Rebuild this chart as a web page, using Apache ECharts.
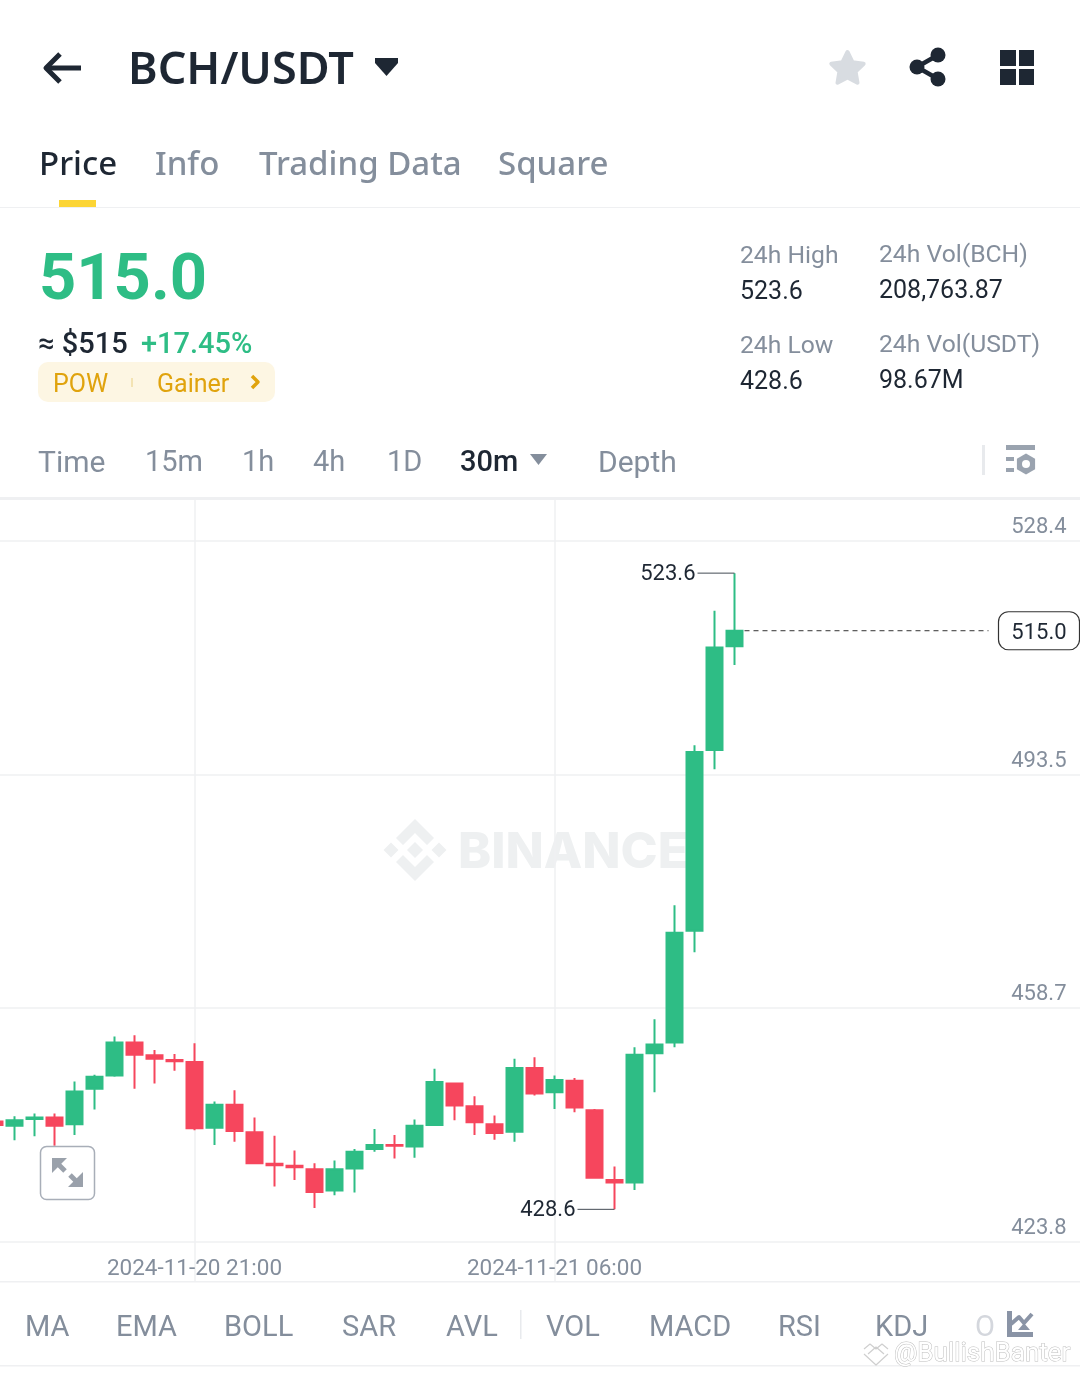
<!DOCTYPE html>
<html>
<head>
<meta charset="utf-8">
<title>BCH/USDT</title>
<script src="https://cdn.jsdelivr.net/npm/echarts@6/dist/echarts.min.js"></script>
<style>
html, body { margin: 0; padding: 0; background: #fff; }
#main { width: 1080px; height: 1375px; }
</style>
</head>
<body>
<div id="main"></div>
<script>
// 30m candles, first one is 2024-11-20 16:00
var opens = [441.7, 441.1, 442.1, 442.3, 441.3, 446.6, 448.6, 453.5, 451.6, 450.9, 450.6, 440.8, 444.2, 440.1, 435.4, 435.1, 434.6, 431.4, 434.7, 437.6, 438.2, 438.0, 441.2, 447.4, 444.0, 441.3, 440.2, 449.7, 446.1, 447.8, 443.4, 433.0, 432.6, 451.9, 453.5, 470.2, 497.2, 512.7];
var closes = [441.2, 441.9, 442.3, 441.1, 446.2, 448.4, 453.5, 451.7, 451.1, 450.7, 440.7, 444.2, 440.3, 435.5, 435.2, 434.9, 431.2, 434.6, 437.2, 438.2, 438.1, 441.1, 447.6, 444.1, 441.6, 440.0, 449.7, 445.9, 447.9, 443.8, 433.3, 432.6, 451.7, 453.2, 469.9, 496.9, 512.5, 515.0];
var lows = [441.1, 438.9, 439.5, 438.1, 439.7, 443.5, 448.4, 446.6, 447.4, 449.3, 440.4, 438.2, 438.7, 435.4, 432.0, 433.0, 428.8, 430.7, 431.1, 437.2, 436.2, 436.3, 441.1, 441.9, 439.7, 439.0, 438.7, 445.6, 443.6, 443.1, 433.2, 428.6, 431.5, 446.1, 452.8, 467.0, 494.3, 509.9];
var highs = [441.8, 442.5, 442.9, 442.9, 447.7, 448.7, 454.4, 454.6, 452.4, 451.8, 453.4, 444.7, 446.4, 442.3, 439.6, 437.4, 435.5, 435.9, 437.6, 440.6, 439.7, 442.0, 449.6, 447.5, 445.5, 442.6, 451.1, 451.3, 448.6, 448.2, 443.6, 435.0, 452.8, 457.0, 474.0, 497.9, 518.0, 523.6];
var priceTicks = [423.8, 458.7, 493.5, 528.4];
var dateLabels = { 10: '2024-11-20 21:00', 28: '2024-11-21 06:00' };
var lastPrice = 515.0;
var highPoint = [37, 523.6];
var lowPoint = [31, 428.6];
var slotCount = 55; // room on the right for the empty part of the chart

var tabs = ['Price', 'Info', 'Trading Data', 'Square'];
var intervals = ['Time', '15m', '1h', '4h', '1D', '30m', 'Depth'];
var indicators = ['MA', 'EMA', 'BOLL', 'SAR', 'AVL', 'VOL', 'MACD', 'RSI', 'KDJ', 'O'];

var categories = [];
for (var i = 0; i < slotCount; i++) {
	categories.push(dateLabels[i] || String(i));
}
var candles = opens.map(function (o, i) {
	return [o, closes[i], lows[i], highs[i]];
});

var GREEN = '#2EBD85', RED = '#F6465D', DARK = '#1E2733', GREY = '#848E9C', LINE = '#EFF0F2', GOLD = '#E0A30D';
var FONT = 'Roboto, sans-serif';
var LABEL_FONT = '"Noto Sans", sans-serif';

function txt(s, x, y, font, fill, family) {
	var size = parseFloat(font.split(' ')[1]);
	return {
		type: 'text', x: x, y: y + size * 0.07, z: 10, silent: true,
		style: { text: s, font: font + ' ' + (family || FONT), fill: fill, textVerticalAlign: 'middle' }
	};
}
function hline(y, w, color) {
	return { type: 'rect', z: 1, silent: true, shape: { x: 0, y: y, width: 1080, height: w }, style: { fill: color || LINE } };
}
function box(x, y, w, h, fill, r) {
	return { type: 'rect', z: 10, silent: true, shape: { x: x, y: y, width: w, height: h, r: r || 0 }, style: { fill: fill } };
}
function poly(points, fill, z) {
	return { type: 'polygon', z: z || 10, silent: true, shape: { points: points }, style: { fill: fill } };
}
function stroke(points, color, w, z) {
	return { type: 'polyline', z: z || 10, silent: true, shape: { points: points }, style: { stroke: color, lineWidth: w, fill: 'none', lineJoin: 'round' } };
}
function circle(cx, cy, r, fill) {
	return { type: 'circle', z: 10, silent: true, shape: { cx: cx, cy: cy, r: r }, style: { fill: fill } };
}
function ring(cx, cy, r, n, rot) {
	var pts = [];
	for (var k = 0; k < n; k++) {
		var a = rot + k * 2 * Math.PI / n;
		pts.push([cx + r * Math.cos(a), cy + r * Math.sin(a)]);
	}
	return pts;
}
function star(cx, cy, r) {
	var pts = [];
	for (var k = 0; k < 10; k++) {
		var a = -Math.PI / 2 + k * Math.PI / 5;
		var rr = k % 2 ? r * 0.5 : r;
		pts.push([cx + rr * Math.cos(a), cy + rr * Math.sin(a)]);
	}
	return pts;
}

var tabX = [39, 155, 259, 498];
var intervalX = [38, 145, 242, 313, 387, 460, 598];
var indicatorX = [25, 116, 224, 342, 446, 546, 649, 778, 875, 975];

var ui = [
	hline(207, 1), hline(497, 3), hline(1281, 1.5), hline(1365, 1.5),

	// header
	stroke([[60, 54], [46, 68], [60, 82]], DARK, 5),
	stroke([[47, 68], [81, 68]], DARK, 5),
	txt('BCH/USDT', 128, 68, '600 45px', DARK, LABEL_FONT),
	poly([[375, 58], [398, 58], [398, 63], [386.5, 76], [375, 63]], DARK),
	{ type: 'polygon', z: 10, silent: true, shape: { points: star(847.5, 69, 17) }, style: { fill: '#D8DCE1', stroke: '#D8DCE1', lineWidth: 4, lineJoin: 'round' } },
	stroke([[938, 55], [917, 67], [938, 79]], DARK, 4.5),
	circle(938, 55, 7.5, DARK), circle(917, 67, 7.5, DARK), circle(938, 79, 7.5, DARK),
	box(1000, 50, 16, 16, DARK), box(1019, 50, 15, 16, DARK),
	box(1000, 69, 16, 16, DARK), box(1019, 69, 15, 16, DARK),

	box(59, 200, 37, 7, '#FCD535'),

	// price block
	txt('515.0', 39, 278, '700 65px', GREEN),
	txt('≈ $515', 38, 344, '500 29px', DARK),
	txt('+17.45%', 141, 344, '500 29px', GREEN),
	box(38, 362, 237, 40, '#FDF6E3', 10),
	txt('POW', 53, 384, '400 25px', GOLD),
	box(131, 378, 2, 9, '#F3E3B3'),
	txt('Gainer', 157, 384, '400 25px', GOLD),
	stroke([[252, 376], [258, 382], [252, 388]], GOLD, 3.5),

	txt('24h High', 740, 255, '400 24.7px', GREY),
	txt('523.6', 740, 291, '400 25px', DARK),
	txt('24h Vol(BCH)', 879, 254, '400 24.7px', GREY),
	txt('208,763.87', 879, 290, '400 25px', DARK),
	txt('24h Low', 740, 345, '400 24.7px', GREY),
	txt('428.6', 740, 381, '400 25px', DARK),
	txt('24h Vol(USDT)', 879, 344, '400 24.7px', GREY),
	txt('98.67M', 879, 380, '400 25px', DARK),

	poly([[530, 454], [547, 454], [538.5, 465]], GREY),
	box(982, 445, 3, 30, '#E8EAED'),
	box(1006, 445, 29, 5, '#9AA3AF'), box(1006, 457, 8, 4, '#9AA3AF'), box(1006, 468, 8, 4, '#9AA3AF'),
	poly(ring(1026, 464, 10.5, 6, Math.PI / 2), '#9AA3AF'),
	circle(1026, 464, 4, '#fff'),

	// BINANCE watermark, sits under the candles
	poly(ring(415, 850, 8, 4, 0), '#EEF0F1', -1),
	poly(ring(391, 850, 7.5, 4, 0), '#EEF0F1', -1),
	poly(ring(439, 850, 7.5, 4, 0), '#EEF0F1', -1),
	poly([[415, 819], [434, 838], [427, 845], [415, 833], [403, 845], [396, 838]], '#EEF0F1', -1),
	poly([[415, 881], [434, 862], [427, 855], [415, 867], [403, 855], [396, 862]], '#EEF0F1', -1),
	{ type: 'text', x: 458, y: 853, z: -1, silent: true, style: { text: 'BINANCE', font: '800 50px Inter, sans-serif', fill: '#EEF0F1', textVerticalAlign: 'middle' } },

	// expand button
	{ type: 'rect', z: 10, silent: true, shape: { x: 40.5, y: 1146.5, width: 54, height: 53, r: 6 }, style: { fill: '#fff', stroke: '#A8AEB8', lineWidth: 1.5 } },
	poly([[52, 1158], [67, 1158], [52, 1173]], '#9AA1AB'),
	poly([[83, 1187], [83, 1172], [68, 1187]], '#9AA1AB'),
	stroke([[58, 1164], [65, 1171]], '#9AA1AB', 5),
	stroke([[70, 1175], [77, 1182]], '#9AA1AB', 5),

	box(520, 1310, 1.5, 29, '#E8EAED'),

	// bottom right icon
	box(1007, 1311, 5, 26, '#8A94A6'), box(1007, 1332, 26, 5, '#8A94A6'),
	stroke([[1011, 1324], [1019, 1317], [1024, 1323], [1032, 1314]], '#8A94A6', 4),
	poly([[1018, 1330], [1024, 1323], [1030, 1330]], '#8A94A6'),

	// repost watermark
	stroke([[864, 1349], [870, 1344], [876, 1349], [882, 1344], [888, 1349]], '#CFCFCF', 1.2),
	stroke([[868, 1354], [876, 1347], [884, 1354]], '#CFCFCF', 1.2),
	stroke([[864, 1354], [876, 1365], [888, 1354]], '#CFCFCF', 1.2),
	{ type: 'text', x: 894, y: 1354, z: 11, silent: true, style: { text: '@BullishBanter', font: '400 26px ' + FONT, fill: '#fff', stroke: '#BDBDBD', lineWidth: 1, textVerticalAlign: 'middle' } }
];

tabs.forEach(function (s, i) {
	ui.push(txt(s, tabX[i], 163, '500 33px', i === 0 ? DARK : GREY, LABEL_FONT));
});
intervals.forEach(function (s, i) {
	var short = s !== 'Time' && s !== 'Depth';
	ui.push(txt(s, intervalX[i], 462, (s === '30m' ? '500 ' : '400 ') + (short ? '29px' : '30px'), s === '30m' ? DARK : GREY));
});
indicators.forEach(function (s, i) {
	ui.push(txt(s, indicatorX[i], 1327, '400 29px', s === 'O' ? '#D4D7DD' : GREY));
});

// high / low leaders and the last price tag follow the axes
function renderNotes(params, api) {
	var kind = api.value(2);
	var p = api.coord([api.value(0), api.value(1)]);
	var x = p[0], y = p[1];
	if (kind === 0) {
		return {
			type: 'group',
			children: [
				{ type: 'polyline', shape: { points: [[x, y], [x - 37, y]] }, style: { stroke: '#444B55', lineWidth: 1, fill: 'none' } },
				{ type: 'text', x: x - 39, y: y + 1, style: { text: api.value(1).toFixed(1), font: '400 22px ' + FONT, fill: DARK, textAlign: 'right', textVerticalAlign: 'middle' } }
			]
		};
	}
	return {
		type: 'group',
		children: [
			{ type: 'polyline', shape: { points: [[x + 10, y], [x + 254, y]] }, style: { stroke: '#333', lineWidth: 1, lineDash: [5, 4], fill: 'none' } },
			{ type: 'rect', shape: { x: x + 264, y: y - 19, width: 81, height: 38, r: 10 }, style: { fill: '#fff', stroke: '#333', lineWidth: 1.2 } },
			{ type: 'text', x: x + 304.5, y: y + 3, style: { text: api.value(1).toFixed(1), font: '400 22px ' + FONT, fill: DARK, textAlign: 'center', textVerticalAlign: 'middle' } }
		]
	};
}

var option = {
	animation: false,
	backgroundColor: '#fff',
	grid: { left: -15.5, right: -4.5, top: 498, bottom: 94, outerBoundsMode: 'none' },
	xAxis: {
		type: 'category',
		data: categories,
		boundaryGap: true,
		axisLine: { show: false },
		axisTick: { show: false },
		axisLabel: {
			inside: true,
			margin: 0,
			interval: function (i) { return !!dateLabels[i]; },
			color: GREY,
			fontFamily: FONT,
			fontSize: 22.5
		},
		splitLine: {
			show: true,
			alignWithLabel: true,
			interval: function (i) { return !!dateLabels[i]; },
			lineStyle: { color: LINE, width: 1.5 }
		}
	},
	yAxis: {
		type: 'value',
		position: 'right',
		min: 417.9,
		max: 534.82,
		axisLine: { show: false },
		axisTick: { show: false, customValues: priceTicks },
		axisLabel: {
			inside: true,
			customValues: priceTicks,
			margin: 18,
			verticalAlign: 'bottom',
			padding: [0, 0, 2, 0],
			color: GREY,
			fontFamily: FONT,
			fontSize: 22,
			formatter: function (v) { return v.toFixed(1); }
		},
		splitLine: { show: true, lineStyle: { color: LINE, width: 1.5 } }
	},
	series: [
		{
			type: 'candlestick',
			data: candles,
			barWidth: 16.5,
			itemStyle: { color: GREEN, color0: RED, borderColor: GREEN, borderColor0: RED, borderWidth: 2 }
		},
		{
			type: 'custom',
			renderItem: renderNotes,
			clip: false,
			z: 5,
			silent: true,
			data: [[highPoint[0], highPoint[1], 0], [lowPoint[0], lowPoint[1], 0], [opens.length - 1, lastPrice, 1]]
		}
	],
	graphic: { elements: ui }
};

var chart = echarts.init(document.getElementById('main'));
chart.setOption(option);
</script>
</body>
</html>
